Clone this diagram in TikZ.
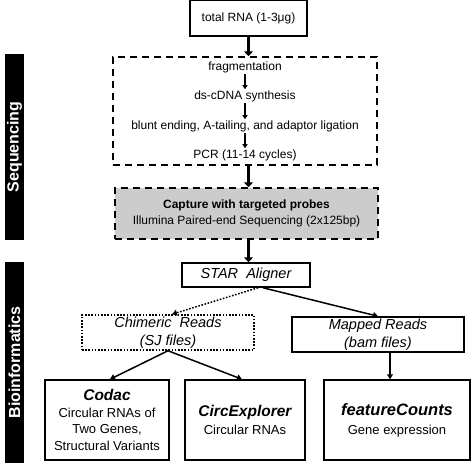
\documentclass[tikz,border=0pt]{standalone}
\usepackage{fontspec}
\setmainfont{Liberation Sans}
\usetikzlibrary{arrows.meta,positioning}
\definecolor{capgray}{RGB}{204,204,204}

\begin{document}
\begin{tikzpicture}[x=1pt, y=-1pt,
  box/.style={draw, line width=1.5pt, align=center, inner sep=0pt},
  dashbox/.style={box, dash pattern=on 7pt off 5pt},
  dotbox/.style={box, dash pattern=on 1.6pt off 1.6pt},
  steptext/.style={inner sep=1pt, font=\fontsize{12}{14}\selectfont},
  bigarrow/.style={-{Triangle[width=9pt,length=5pt]}, line width=3.5pt},
  smallarrow/.style={-{Triangle[width=5pt,length=4pt]}, line width=1.2pt},
  arrow/.style={-{Triangle[width=6pt,length=5pt]}, line width=1.5pt},
  sidebar/.style={fill=black, text=white, inner sep=0pt, rotate=90, minimum height=19pt, font=\fontsize{16}{18}\selectfont\bfseries}
]
\useasboundingbox (0,0) rectangle (474,463);

% side labels
\node[sidebar, minimum width=186pt] (seq) at (14.5,147) {Sequencing};
\node[sidebar, minimum width=201pt] (bioinf) at (14.5,362.5) {Bioinformatics};

% sequencing part
\node[box, minimum width=117pt, minimum height=36pt, font=\fontsize{12}{14}\selectfont] (rna) at (248.5,18) {total RNA (1-3μg)};
\node[dashbox, minimum width=264pt, minimum height=108pt] (lib) at (245,111) {};
\node[steptext] (frag) at (245,67) {fragmentation};
\node[steptext] (cdna) at (245,96) {ds-cDNA synthesis};
\node[steptext] (blunt) at (245,126) {blunt ending, A-tailing, and adaptor ligation};
\node[steptext] (pcr) at (245,155) {PCR (11-14 cycles)};
\node[dashbox, fill=capgray, minimum width=263pt, minimum height=51pt, font=\fontsize{12}{16}\selectfont] (capture) at (246.5,213.5)
  {\textbf{Capture with targeted probes}\\Illumina Paired-end Sequencing (2x125bp)};

% bioinformatics part
\node[box, minimum width=128pt, minimum height=24pt, font=\fontsize{14.5}{18}\selectfont\itshape] (star) at (246,275) {STAR\ \ Aligner};
\node[dotbox, minimum width=172pt, minimum height=35pt, font=\fontsize{14.5}{18}\selectfont\itshape] (chim) at (168,332.5) {Chimeric\ \ Reads\\(SJ files)};
\node[box, minimum width=172pt, minimum height=35pt, font=\fontsize{14.5}{18}\selectfont\itshape] (mapped) at (378,334.5) {Mapped Reads\\(bam files)};
\node[box, minimum width=124pt, minimum height=80pt, font=\fontsize{13}{16.5}\selectfont] (codac) at (107,420)
  {{\fontsize{15.5}{18}\selectfont\bfseries\itshape Codac}\\Circular RNAs of\\Two Genes,\\Structural Variants};
\node[box, minimum width=120pt, minimum height=80pt, font=\fontsize{13}{18}\selectfont] (circ) at (245,420)
  {{\fontsize{15.5}{18}\selectfont\bfseries\itshape CircExplorer}\\Circular RNAs};
\node[box, minimum width=146pt, minimum height=80pt, font=\fontsize{13}{19}\selectfont] (feat) at (397,420)
  {{\fontsize{16.5}{19}\selectfont\bfseries\itshape featureCounts}\\Gene expression};

\draw[bigarrow] (rna.south) -- (rna.south |- lib.north);
\draw[smallarrow] (frag) -- (cdna);
\draw[smallarrow] (cdna) -- (blunt);
\draw[smallarrow] (blunt) -- (pcr);
\draw[bigarrow] (lib.south -| rna) -- (capture.north -| rna);
\draw[bigarrow] (capture.south -| rna) -- (star.north -| rna);
\draw[arrow, dash pattern=on 1.6pt off 1.6pt] ([xshift=12pt]star.south) -- ([xshift=4pt]chim.north);
\draw[arrow] ([xshift=17pt]star.south) -- (mapped.north);
\draw[arrow] (chim.south) -- ([xshift=3pt]codac.north);
\draw[arrow] (chim.south) -- ([xshift=-3pt]circ.north);
\draw[arrow] ([xshift=12pt]mapped.south) -- ([xshift=12pt]mapped.south |- feat.north);
\end{tikzpicture}
\end{document}
